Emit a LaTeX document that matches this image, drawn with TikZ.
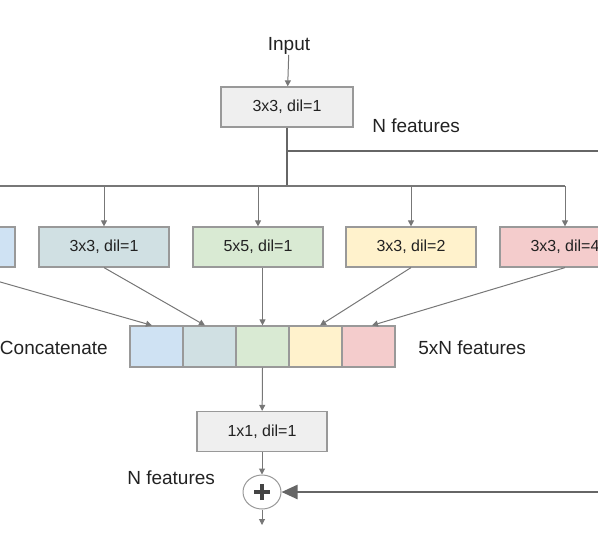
\documentclass[tikz,border=0pt]{standalone}
\usepackage{fontspec}
\setmainfont{Liberation Sans}
\usetikzlibrary{arrows.meta}
\usetikzlibrary{calc}
\usetikzlibrary{shapes.geometric}

\definecolor{linegray}{HTML}{777777}
\definecolor{skipgray}{HTML}{666666}
\definecolor{plusgray}{HTML}{444444}
\definecolor{bordergray}{HTML}{999999}
\definecolor{boxgray}{HTML}{EFEFEF}
\definecolor{cblue}{HTML}{CFE2F3}
\definecolor{cteal}{HTML}{D0E0E3}
\definecolor{cgreen}{HTML}{D9EAD3}
\definecolor{cyellow}{HTML}{FFF2CC}
\definecolor{cred}{HTML}{F4CCCC}
\definecolor{textdark}{HTML}{222222}

\tikzset{
  convbox/.style={draw=bordergray, line width=0.9pt, minimum width=97.5pt, minimum height=30pt,
    inner sep=0pt, text=textdark, font=\fontsize{12}{14}\selectfont},
  cell/.style={draw=bordergray, line width=0.9pt, minimum width=39.75pt, minimum height=30.75pt, inner sep=0pt},
  lbl/.style={inner sep=0pt, text=textdark, font=\fontsize{14.25}{16}\selectfont},
  conn/.style={draw=linegray, line width=0.75pt, -{Triangle[length=4.5pt, width=4.5pt]}},
  bus/.style={draw=linegray, line width=1.6pt},
  skip/.style={draw=skipgray, line width=1.8pt},
  adder/.style={ellipse, draw=bordergray, line width=0.75pt, minimum width=28.5pt, minimum height=25.5pt,
    inner sep=0pt,
    path picture={
      \draw[plusgray, line width=2.6pt] ($(path picture bounding box.center)+(-6pt,0)$) -- ++(12pt,0);
      \draw[plusgray, line width=2.6pt] ($(path picture bounding box.center)+(0,-6pt)$) -- ++(0,12pt);
    }}
}

\begin{document}
\begin{tikzpicture}[x=0.75pt, y=-0.75pt]
  \path[use as bounding box, clip] (0,0) rectangle (598,553);

  \node[lbl] (input) at (289,46) {Input};
  \node[convbox, fill=boxgray, minimum width=99pt] (first) at (287,107) {3x3, dil=1};
  \node[lbl, anchor=west] (nfeat) at (372,126) {N features};

  \coordinate (split) at (287,151);
  \coordinate (bus) at (287,186);
  \coordinate (rt) at (650,151);
  \coordinate (rb) at (650,492);

  % parallel branches
  \node[convbox, fill=cblue] (b1) at (-50,247) {};
  \node[convbox, fill=cteal] (b2) at (104,247) {3x3, dil=1};
  \node[convbox, fill=cgreen] (b3) at (258,247) {5x5, dil=1};
  \node[convbox, fill=cyellow] (b4) at (411,247) {3x3, dil=2};
  \node[convbox, fill=cred] (b5) at (565,247) {3x3, dil=4};

  % concatenated features
  \foreach \c [count=\i] in {cblue,cteal,cgreen,cyellow,cred}
    \node[cell, fill=\c] (c\i) at ({103.5+53*\i},346.5) {};
  \node[lbl, anchor=east] (concat) at (108,348) {Concatenate};
  \node[lbl, anchor=west] (fivefeat) at (418,348) {5xN features};

  \node[convbox, fill=boxgray] (last) at (262,431.5) {1x1, dil=1};
  \node[adder] (plus) at (262,492) {};
  \node[lbl, anchor=west] (nfeat2) at (127,478) {N features};
  \coordinate (out) at (262,525);

  \draw[conn] (input) -- (first);
  \draw[skip] (first) -- (bus);
  \draw[bus] (b1.north |- bus) -- (b5.north |- bus);
  \foreach \i in {1,...,5}
    \draw[conn] (bus -| b\i.north) -- (b\i.north);

  \draw[conn] (b1.south) -- ([xshift=-3.4pt]c1.north);
  \draw[conn] (b2.south) -- ([xshift=-3.4pt]c2.north);
  \draw[conn] (c3.north |- b3.south) -- (c3.north);
  \draw[conn] (b4.south) -- ([xshift=3.4pt]c4.north);
  \draw[conn] (b5.south) -- ([xshift=2.6pt]c5.north);

  \draw[conn] (c3.south) -- (last);
  \draw[conn] (last) -- (plus);
  \draw[conn] (plus) -- (out);

  % skip connection
  \draw[skip, -{Triangle[length=12pt, width=10.5pt]}] (split) -- (rt) -- (rb) -- (plus);
\end{tikzpicture}
\end{document}
